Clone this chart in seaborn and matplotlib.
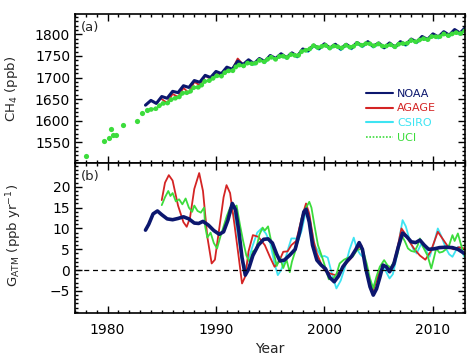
import matplotlib
matplotlib.use("Agg")
import matplotlib.pyplot as plt
from matplotlib.lines import Line2D
from matplotlib.ticker import MultipleLocator
import seaborn as sns

# ---- panel (a): CH4 mole fraction (ppb) ----
noaa_years = [1983.5, 1984.0, 1984.5, 1985.0, 1985.5, 1986.0, 1986.5, 1987.0, 1987.5, 1988.0,
              1988.5, 1989.0, 1989.5, 1990.0, 1990.5, 1991.0, 1991.5, 1992.0, 1992.5, 1993.0,
              1993.5, 1994.0, 1994.5, 1995.0, 1995.5, 1996.0, 1996.5, 1997.0, 1997.5, 1998.0,
              1998.5, 1999.0, 1999.5, 2000.0, 2000.5, 2001.0, 2001.5, 2002.0, 2002.5, 2003.0,
              2003.5, 2004.0, 2004.5, 2005.0, 2005.5, 2006.0, 2006.5, 2007.0, 2007.5, 2008.0,
              2008.5, 2009.0, 2009.5, 2010.0, 2010.5, 2011.0, 2011.5, 2012.0, 2012.5, 2013.0]
noaa_ch4 = [1636, 1647, 1640, 1656, 1652, 1668, 1665, 1681, 1677, 1693,
            1689, 1705, 1700, 1714, 1709, 1724, 1719, 1738, 1730, 1741,
            1732, 1744, 1737, 1751, 1744, 1755, 1746, 1757, 1749, 1766,
            1762, 1775, 1767, 1778, 1768, 1777, 1766, 1777, 1768, 1781,
            1773, 1783, 1772, 1780, 1769, 1780, 1770, 1783, 1776, 1789,
            1782, 1795, 1788, 1801, 1794, 1806, 1798, 1811, 1803, 1816]

agage_years = [1985.0, 1985.5, 1986.0, 1986.5, 1987.0, 1987.5, 1988.0, 1988.5, 1989.0, 1989.5,
               1990.0, 1990.5, 1991.0, 1991.5, 1992.0, 1992.5, 1993.0, 1993.5, 1994.0, 1994.5,
               1995.0, 1995.5, 1996.0, 1996.5, 1997.0, 1997.5, 1998.0, 1998.5, 1999.0, 1999.5,
               2000.0, 2000.5, 2001.0, 2001.5, 2002.0, 2002.5, 2003.0, 2003.5, 2004.0, 2004.5,
               2005.0, 2005.5, 2006.0, 2006.5, 2007.0, 2007.5, 2008.0, 2008.5, 2009.0, 2009.5,
               2010.0, 2010.5, 2011.0, 2011.5, 2012.0, 2012.5, 2013.0]
agage_ch4 = [1650, 1641, 1662, 1655, 1676, 1664, 1690, 1682, 1704, 1697,
             1712, 1705, 1722, 1718, 1744, 1730, 1738, 1731, 1742, 1736,
             1749, 1742, 1753, 1745, 1755, 1748, 1764, 1761, 1773, 1766,
             1776, 1767, 1775, 1765, 1775, 1767, 1779, 1772, 1781, 1771,
             1778, 1768, 1778, 1769, 1781, 1775, 1787, 1781, 1793, 1786,
             1799, 1792, 1804, 1796, 1809, 1801, 1813]

csiro_years = [1992.0, 1992.5, 1993.0, 1993.5, 1994.0, 1994.5, 1995.0, 1995.5, 1996.0, 1996.5,
               1997.0, 1997.5, 1998.0, 1998.5, 1999.0, 1999.5, 2000.0, 2000.5, 2001.0, 2001.5,
               2002.0, 2002.5, 2003.0, 2003.5, 2004.0, 2004.5, 2005.0, 2005.5, 2006.0, 2006.5,
               2007.0, 2007.5, 2008.0, 2008.5, 2009.0, 2009.5, 2010.0, 2010.5, 2011.0, 2011.5,
               2012.0, 2012.5, 2013.0]
csiro_ch4 = [1734, 1727, 1737, 1729, 1741, 1733, 1748, 1740, 1752, 1743,
             1754, 1746, 1763, 1759, 1772, 1764, 1775, 1765, 1774, 1763,
             1774, 1765, 1778, 1770, 1780, 1769, 1777, 1767, 1776, 1768,
             1780, 1773, 1786, 1779, 1792, 1785, 1798, 1790, 1802, 1794,
             1806, 1799, 1810]

uci_flask_years = [1978.0, 1979.7, 1980.1, 1980.3, 1980.5, 1980.8, 1981.45, 1982.7, 1983.2, 1983.6]
uci_flask_ch4 = [1518, 1552, 1561, 1580, 1568, 1568, 1589, 1599, 1619, 1625]

uci_years = [1984.0, 1984.5, 1985.0, 1985.5, 1986.0, 1986.5, 1987.0, 1987.5, 1988.0, 1988.5,
             1989.0, 1989.5, 1990.0, 1990.5, 1991.0, 1991.5, 1992.0, 1992.5, 1993.0, 1993.5,
             1994.0, 1994.5, 1995.0, 1995.5, 1996.0, 1996.5, 1997.0, 1997.5, 1998.0, 1998.5,
             1999.0, 1999.5, 2000.0, 2000.5, 2001.0, 2001.5, 2002.0, 2002.5, 2003.0, 2003.5,
             2004.0, 2004.5, 2005.0, 2005.5, 2006.0, 2006.5, 2007.0, 2007.5, 2008.0, 2008.5,
             2009.0, 2009.5, 2010.0, 2010.5, 2011.0, 2011.5, 2012.0, 2012.5, 2013.0]
uci_ch4 = [1626, 1628, 1640, 1640, 1652, 1652, 1666, 1664, 1678, 1677,
           1692, 1693, 1704, 1703, 1716, 1714, 1730, 1726, 1735, 1730,
           1740, 1736, 1748, 1742, 1752, 1745, 1755, 1748, 1763, 1763,
           1774, 1768, 1776, 1768, 1775, 1767, 1775, 1768, 1779, 1774,
           1781, 1773, 1778, 1770, 1777, 1771, 1780, 1777, 1786, 1782,
           1791, 1787, 1797, 1792, 1801, 1796, 1805, 1801, 1809]

# ---- panel (b): growth rate G_ATM (ppb/yr) ----
noaa_g_years = [1983.5, 1983.8, 1984.2, 1984.6, 1985.0, 1985.5, 1986.0, 1986.5, 1987.0, 1987.5,
                1988.0, 1988.4, 1988.8, 1989.3, 1989.8, 1990.3, 1990.7, 1991.1, 1991.5, 1991.8,
                1992.1, 1992.4, 1992.7, 1993.0, 1993.4, 1993.9, 1994.4, 1994.8, 1995.2, 1995.6,
                1995.9, 1996.3, 1996.8, 1997.3, 1997.7, 1998.1, 1998.3, 1998.6, 1998.9, 1999.3,
                1999.7, 2000.1, 2000.5, 2000.9, 2001.3, 2001.7, 2002.1, 2002.5, 2002.9, 2003.2,
                2003.5, 2003.8, 2004.2, 2004.5, 2004.8, 2005.1, 2005.4, 2005.7, 2006.0, 2006.4,
                2006.8, 2007.2, 2007.6, 2008.0, 2008.4, 2008.8, 2009.2, 2009.6, 2010.1, 2010.6,
                2011.2, 2011.8, 2012.3, 2012.9]
noaa_g = [9.6, 11.0, 13.5, 14.2, 13.3, 12.3, 12.1, 12.4, 12.8, 12.3,
          11.3, 11.2, 11.7, 10.8, 9.5, 8.6, 9.2, 12.0, 16.0, 14.5,
          9.5, 3.0, -1.2, 0.2, 3.5, 6.0, 7.4, 7.5, 6.5, 3.8,
          2.2, 2.4, 3.6, 5.0, 9.0, 14.0, 14.6, 11.5, 6.0, 2.4,
          1.2, 0.3, -1.8, -2.8, -1.4, 0.8, 2.2, 3.3, 5.0, 6.6,
          5.0, 0.5, -4.0, -6.0, -4.5, -1.8, 1.2, 0.8, -0.4, 1.5,
          5.5, 8.9, 8.0, 6.8, 6.6, 7.2, 6.0, 5.0, 5.1, 5.4,
          5.5, 5.4, 5.0, 4.0]

agage_g_years = [1985.0, 1985.3, 1985.65, 1986.0, 1986.5, 1987.0, 1987.3, 1987.6, 1988.0, 1988.45,
                 1988.8, 1989.2, 1989.6, 1989.9, 1990.3, 1990.7, 1990.97, 1991.3, 1991.7, 1992.1,
                 1992.4, 1992.7, 1993.0, 1993.4, 1993.9, 1994.5, 1995.0, 1995.4, 1995.8, 1996.2,
                 1996.6, 1996.95, 1997.4, 1997.9, 1998.3, 1998.6, 1999.0, 1999.3, 1999.7, 2000.0,
                 2000.5, 2001.0, 2001.5, 2002.0, 2002.5, 2002.9, 2003.4, 2003.8, 2004.2, 2004.5,
                 2004.8, 2005.1, 2005.5, 2005.9, 2006.3, 2006.7, 2007.1, 2007.5, 2007.85, 2008.3,
                 2008.8, 2009.3, 2009.8, 2010.45, 2010.9, 2011.4, 2011.9, 2012.4, 2012.9]
agage_g = [16.8, 21.0, 22.8, 21.5, 15.5, 11.5, 10.4, 12.5, 19.5, 23.3,
           19.0, 8.0, 1.6, 2.5, 10.0, 17.5, 20.4, 18.5, 11.0, 3.0,
           -3.2, -1.5, 4.5, 8.4, 8.0, 6.0, 3.0, 0.8, 2.0, 4.4,
           4.5, 6.0, 7.0, 12.5, 16.0, 13.5, 7.0, 4.0, 1.5, 0.0,
           -0.8, -1.2, -0.2, 1.6, 3.0, 4.8, 6.0, 1.5, -3.0, -4.8,
           -2.5, -0.2, 1.0, 0.5, 1.0, 5.0, 10.0, 8.5, 6.8, 5.0,
           3.5, 2.5, 4.5, 9.2, 7.5, 5.6, 5.0, 5.5, 5.2]

csiro_g_years = [1991.3, 1991.7, 1992.1, 1992.4, 1992.7, 1993.0, 1993.4, 1993.8, 1994.2, 1994.6,
                 1995.0, 1995.4, 1995.7, 1996.0, 1996.4, 1996.7, 1996.95, 1997.3, 1997.6, 1997.9,
                 1998.2, 1998.5, 1998.8, 1999.1, 1999.4, 1999.7, 2000.0, 2000.3, 2000.7, 2001.1,
                 2001.5, 2001.9, 2002.3, 2002.7, 2003.0, 2003.3, 2003.6, 2003.9, 2004.2, 2004.5,
                 2004.8, 2005.1, 2005.4, 2005.7, 2006.0, 2006.3, 2006.6, 2006.9, 2007.2, 2007.5,
                 2007.85, 2008.2, 2008.5, 2008.9, 2009.3, 2009.7, 2010.1, 2010.45, 2010.8, 2011.2,
                 2011.5, 2011.8, 2012.3, 2012.6, 2012.9]
csiro_g = [14.0, 13.5, 7.0, 2.0, 0.5, 2.5, 6.0, 9.0, 10.0, 8.8,
           6.5, 1.5, -1.2, 0.0, 2.8, 5.5, 7.6, 7.6, 7.2, 9.5,
           13.2, 14.4, 10.0, 6.0, 4.6, 3.2, 3.4, 3.0, -1.0, -4.4,
           -2.5, 0.8, 4.8, 7.8, 5.0, 3.8, 3.0, 0.0, -3.0, -4.2,
           -2.0, -0.5, 0.8, -0.5, -2.0, -1.0, 2.4, 7.5, 12.0, 10.5,
           7.2, 5.0, 4.0, 6.2, 5.0, 3.2, 6.5, 10.0, 8.0, 5.2,
           3.8, 3.2, 5.6, 4.8, 3.2]

uci_g_years = [1985.0, 1985.3, 1985.6, 1985.8, 1986.0, 1986.3, 1986.6, 1986.9, 1987.2, 1987.5,
               1987.8, 1988.0, 1988.3, 1988.6, 1988.9, 1989.0, 1989.2, 1989.5, 1989.8, 1990.1,
               1990.4, 1990.7, 1991.0, 1991.3, 1991.6, 1991.9, 1992.2, 1992.5, 1992.8, 1993.1,
               1993.4, 1993.7, 1994.0, 1994.3, 1994.5, 1994.8, 1995.0, 1995.3, 1995.6, 1995.9,
               1996.2, 1996.5, 1996.8, 1997.0, 1997.3, 1997.6, 1997.9, 1998.2, 1998.6, 1998.8,
               1999.1, 1999.4, 1999.8, 2000.1, 2000.4, 2000.8, 2001.1, 2001.4, 2001.8, 2002.2,
               2002.6, 2003.0, 2003.5, 2003.9, 2004.2, 2004.5, 2004.8, 2005.1, 2005.5, 2005.8,
               2006.1, 2006.4, 2006.7, 2007.1, 2007.4, 2007.7, 2008.0, 2008.3, 2008.6, 2008.8,
               2009.1, 2009.5, 2009.85, 2010.1, 2010.3, 2010.6, 2010.9, 2011.2, 2011.5, 2011.8,
               2012.0, 2012.3, 2012.6, 2012.8, 2013.0]
uci_g = [15.6, 17.5, 19.0, 17.8, 18.5, 16.5, 17.0, 15.8, 17.2, 15.0,
         14.0, 15.5, 14.2, 13.8, 15.0, 10.5, 7.8, 9.0, 6.5, 5.2,
         8.0, 10.5, 13.0, 15.0, 14.8, 15.5, 11.0, 7.0, 3.5, 2.0,
         4.5, 5.0, 8.5, 10.2, 9.5, 10.5, 8.0, 4.5, 1.0, 3.0,
         0.5, 2.5, -0.5, 2.0, 4.5, 7.5, 12.5, 14.5, 16.4, 15.0,
         10.4, 6.0, 3.0, 0.5, -2.2, -2.0, -1.0, 1.6, 2.5, 3.0,
         3.2, 4.8, 5.2, 1.5, -2.0, -4.4, -1.5, 0.8, 2.4, 1.2,
         0.6, 2.0, 3.5, 8.4, 7.0, 5.2, 4.6, 4.4, 6.0, 7.6,
         5.5, 3.5, 0.4, 3.0, 5.2, 4.2, 4.4, 5.0, 6.0, 8.4,
         7.0, 8.8, 6.0, 4.0, 3.2]

series_names = ["NOAA", "AGAGE", "CSIRO", "UCI"]
series_colors = {"NOAA": "#0c176e", "AGAGE": "#d42424", "CSIRO": "#3ee4f2", "UCI": "#3cdc3c"}

sns.set_style("ticks")
plt.rcParams["font.family"] = ["DejaVu Sans"]
plt.rcParams["mathtext.default"] = "regular"
plt.rcParams["font.size"] = 10

fig = plt.figure(figsize=(4.74, 3.59), dpi=100)
ax1 = fig.add_axes([0.1582, 0.5446, 0.8238, 0.4164])
ax2 = fig.add_axes([0.1582, 0.1281, 0.8238, 0.4165])

# panel (a)
sns.lineplot(x=agage_years, y=agage_ch4, ax=ax1, color=series_colors["AGAGE"], lw=1.3)
sns.lineplot(x=csiro_years, y=csiro_ch4, ax=ax1, color=series_colors["CSIRO"], lw=1.3)
sns.lineplot(x=noaa_years, y=noaa_ch4, ax=ax1, color=series_colors["NOAA"], lw=2.2)
sns.lineplot(x=uci_years, y=uci_ch4, ax=ax1, color=series_colors["UCI"], lw=3.4,
             linestyle=(0, (0.1, 0.9)), dash_capstyle="round")
sns.scatterplot(x=uci_flask_years, y=uci_flask_ch4, ax=ax1, color=series_colors["UCI"],
                s=14, linewidth=0)

# panel (b)
sns.lineplot(x=csiro_g_years, y=csiro_g, ax=ax2, color=series_colors["CSIRO"], lw=1.3)
sns.lineplot(x=agage_g_years, y=agage_g, ax=ax2, color=series_colors["AGAGE"], lw=1.3)
sns.lineplot(x=uci_g_years, y=uci_g, ax=ax2, color=series_colors["UCI"], lw=1.3)
sns.lineplot(x=noaa_g_years, y=noaa_g, ax=ax2, color=series_colors["NOAA"], lw=2.6)
ax2.axhline(0, color="black", lw=0.9, dashes=(4, 3))

for ax in (ax1, ax2):
    ax.set_xlim(1977, 2013)
    ax.xaxis.set_major_locator(MultipleLocator(10))
    ax.xaxis.set_minor_locator(MultipleLocator(1))
    ax.tick_params(which="both", direction="in", top=True, right=True, width=1, colors="black")
    ax.tick_params(which="major", length=5)
    ax.tick_params(which="minor", length=2.5)
    ax.tick_params(axis="both", labelsize=10)
    for sp in ax.spines.values():
        sp.set_linewidth(1.2)
        sp.set_color("black")

ax1.set_ylim(1501, 1847)
ax1.yaxis.set_major_locator(MultipleLocator(50))
ax1.yaxis.set_minor_locator(MultipleLocator(10))
ax1.set_yticks([1550, 1600, 1650, 1700, 1750, 1800])
ax1.tick_params(axis="x", labelbottom=False)
ax1.set_xlabel("")
ax1.set_ylabel("CH$_4$ (ppb)", fontsize=9.5)
ax1.yaxis.set_label_coords(-0.142, 0.5)
ax1.text(0.015, 0.955, "(a)", transform=ax1.transAxes, ha="left", va="top", fontsize=9.5)

ax2.set_ylim(-10.3, 25.6)
ax2.yaxis.set_major_locator(MultipleLocator(5))
ax2.yaxis.set_minor_locator(MultipleLocator(1))
ax2.set_yticks([-5, 0, 5, 10, 15, 20])
ax2.tick_params(axis="x", pad=7)
ax2.set_xlabel("Year", fontsize=10, labelpad=4)
ax2.set_ylabel("G$_{ATM}$ (ppb yr$^{-1}$)", fontsize=9.5)
ax2.yaxis.set_label_coords(-0.13, 0.52)
ax2.text(0.015, 0.955, "(b)", transform=ax2.transAxes, ha="left", va="top", fontsize=9.5)

handles = [
    Line2D([], [], color=series_colors["NOAA"], lw=1.5),
    Line2D([], [], color=series_colors["AGAGE"], lw=1.5),
    Line2D([], [], color=series_colors["CSIRO"], lw=1.5),
    Line2D([], [], color=series_colors["UCI"], lw=1.2, linestyle=(0, (1, 1))),
]
ax1.legend(handles, series_names, loc="upper left", bbox_to_anchor=(0.745, 0.50),
           frameon=False, fontsize=8, handlelength=2.4, handletextpad=0.4,
           labelspacing=0.42, borderpad=0, borderaxespad=0, labelcolor="linecolor")

fig.savefig("out.png", dpi=100)
